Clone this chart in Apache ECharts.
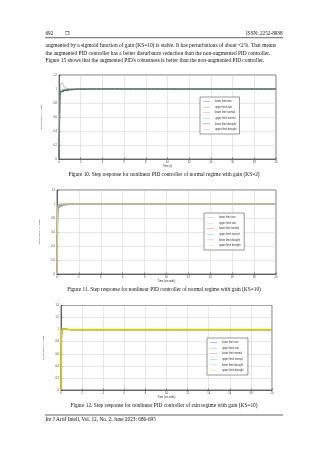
<!DOCTYPE html>
<html>
<head>
<meta charset="utf-8">
<script src="https://cdn.jsdelivr.net/npm/echarts@6/dist/echarts.min.js"></script>
<style>
  html, body { margin: 0; padding: 0; background: #fff; }
  #page { width: 320px; height: 453px; }
</style>
</head>
<body>
<div id="page"></div>
<script>
// time samples (s) shared by every curve
const times = [0, 0.05, 0.1, 0.2, 0.3, 0.5, 1, 2, 3, 5, 10, 20];
const names = ['lower limit rain', 'upper limit rain', 'lower limit normal', 'upper limit normal', 'lower limit drought', 'upper limit drought'];

// Figure 10 (KS=2)
const fig10LoRain    = [0, 0.45, 0.90, 0.95, 0.96, 0.97, 0.985, 0.995, 1.0, 1.005, 1.0, 1.0];
const fig10UpRain    = [0, 0.50, 0.92, 0.96, 0.97, 0.98, 0.99, 1.0, 1.0, 1.0, 1.0, 1.0];
const fig10LoNormal  = [0, 0.55, 0.95, 0.98, 0.99, 0.995, 1.0, 1.005, 1.005, 1.0, 1.0, 1.0];
const fig10UpNormal  = [0, 0.55, 0.94, 0.97, 0.985, 0.99, 1.0, 1.0, 1.0, 1.0, 1.0, 1.0];
const fig10LoDrought = [0, 0.60, 0.97, 0.96, 0.97, 0.98, 0.99, 1.0, 1.0, 1.0, 1.0, 1.0];
const fig10UpDrought = [0, 0.60, 1.02, 1.08, 1.09, 1.03, 1.0, 1.0, 1.0, 1.0, 1.0, 1.0];

// Figure 11 (KS=10, normal)
const fig11LoRain    = [0, 0.70, 0.94, 0.95, 0.96, 0.975, 0.99, 1.0, 1.0, 1.0, 1.0, 1.0];
const fig11UpRain    = [0, 0.72, 0.95, 0.96, 0.97, 0.98, 0.99, 1.0, 1.0, 1.0, 1.0, 1.0];
const fig11LoNormal  = [0, 0.80, 0.98, 0.99, 1.0, 1.0, 1.0, 1.0, 1.0, 1.0, 1.0, 1.0];
const fig11UpNormal  = [0, 0.78, 0.96, 0.97, 0.98, 0.99, 1.0, 1.0, 1.0, 1.0, 1.0, 1.0];
const fig11LoDrought = [0, 0.75, 0.93, 0.94, 0.96, 0.98, 0.995, 1.0, 1.0, 1.0, 1.0, 1.0];
const fig11UpDrought = [0, 0.82, 0.99, 1.0, 1.0, 1.0, 1.0, 1.0, 1.0, 1.0, 1.0, 1.0];

// Figure 12 (KS=10, rain)
const fig12LoRain    = [0, 0.85, 1.0, 1.01, 1.01, 1.005, 1.0, 1.0, 1.0, 1.0, 1.0, 1.0];
const fig12UpRain    = [0, 0.86, 1.0, 1.01, 1.01, 1.005, 1.0, 1.0, 1.0, 1.0, 1.0, 1.0];
const fig12LoNormal  = [0, 0.87, 1.0, 1.015, 1.01, 1.005, 1.0, 1.0, 1.0, 1.0, 1.0, 1.0];
const fig12UpNormal  = [0, 0.86, 0.99, 1.01, 1.01, 1.005, 1.0, 1.0, 1.0, 1.0, 1.0, 1.0];
const fig12LoDrought = [0, 0.88, 1.0, 1.015, 1.01, 1.005, 1.0, 1.0, 1.0, 1.0, 1.0, 1.0];
const fig12UpDrought = [0, 0.88, 1.0, 1.02, 1.015, 1.005, 1.0, 1.0, 1.0, 1.0, 1.0, 1.0];

const fig10Styles = [
  { color: '#2a4fd0', type: [3, 1.5], width: 0.8 },
  { color: '#2ea02e', type: 'solid', width: 0.8 },
  { color: '#e86a6a', type: [3, 1, 1, 1], width: 0.8 },
  { color: '#3cc8d4', type: [2, 1], width: 0.8 },
  { color: '#303030', type: 'solid', width: 0.7 },
  { color: '#9a9a9a', type: 'solid', width: 0.7 }
];
const fig11Styles = [
  { color: '#8c8ce6', type: [2, 1], width: 0.8 },
  { color: '#8fd08f', type: 'solid', width: 0.8 },
  { color: '#e03a3a', type: [1, 1], width: 1 },
  { color: '#3cc0b0', type: 'solid', width: 1.4 },
  { color: '#e070e6', type: 'solid', width: 1 },
  { color: '#e8d46a', type: 'solid', width: 1 }
];
const fig12Styles = [
  { color: '#2030e0', type: 'solid', width: 0.8 },
  { color: '#40b040', type: 'solid', width: 0.8 },
  { color: '#e03030', type: 'solid', width: 0.8 },
  { color: '#808080', type: [2, 1, 1, 1], width: 0.8 },
  { color: '#a0a0a0', type: 'solid', width: 0.7 },
  { color: '#d8cc18', type: 'solid', width: 1.6 }
];

const pairs = (vals) => times.map((t, i) => [t, vals[i]]);

var dom = document.getElementById('page');
var chart = echarts.init(dom, null, { renderer: 'canvas' });

const serif = 'Liberation Serif';
const grids = [
  { left: 59, top: 75, width: 217, height: 84, show: true, borderColor: '#222', borderWidth: 0.6, backgroundColor: '#fff' },
  { left: 57, top: 190, width: 219, height: 84, show: true, borderColor: '#222', borderWidth: 0.6, backgroundColor: '#fff' },
  { left: 61, top: 305.5, width: 211, height: 84.5, show: true, borderColor: '#222', borderWidth: 0.6, backgroundColor: '#fff' }
];
const xNames = ['Time (s)', 'Time (seconds)', 'Time (seconds)'];
const yMax = [1.2, 1.2, 1.4];

let makeX = (i) => ({
  type: 'value', gridIndex: i, min: 0, max: 20, interval: 2,
  name: xNames[i], nameLocation: 'middle', nameGap: 5,
  nameTextStyle: { fontSize: 2.6, color: '#333', fontFamily: 'Liberation Sans' },
  axisLine: { lineStyle: { color: '#222', width: 0.6 } },
  axisTick: { length: 1.5, inside: true, lineStyle: { color: '#222', width: 0.5 } },
  axisLabel: { fontSize: 2.6, color: '#333', margin: 2, fontFamily: 'Liberation Sans' },
  splitLine: { show: true, lineStyle: { color: '#cfcfcf', width: 0.5 } }
});
let makeY = (i) => ({
  type: 'value', gridIndex: i, min: 0, max: yMax[i], interval: 0.2,
  name: 'Normalized Output Level', nameLocation: 'middle', nameGap: 6, nameRotate: 90,
  nameTextStyle: { fontSize: 2.3, color: '#333', fontFamily: 'Liberation Sans' },
  axisLine: { lineStyle: { color: '#222', width: 0.6 } },
  axisTick: { length: 1.5, inside: true, lineStyle: { color: '#222', width: 0.5 } },
  axisLabel: { fontSize: 2.6, color: '#333', margin: 2, fontFamily: 'Liberation Sans' },
  splitLine: { show: true, lineStyle: { color: '#cfcfcf', width: 0.5 } }
});

const figData = [
  [fig10LoRain, fig10UpRain, fig10LoNormal, fig10UpNormal, fig10LoDrought, fig10UpDrought],
  [fig11LoRain, fig11UpRain, fig11LoNormal, fig11UpNormal, fig11LoDrought, fig11UpDrought],
  [fig12LoRain, fig12UpRain, fig12LoNormal, fig12UpNormal, fig12LoDrought, fig12UpDrought]
];
const figStyles = [fig10Styles, fig11Styles, fig12Styles];

let series = [];
let legends = [];
const legendPos = [[200, 97], [204, 213], [207, 338]];
figData.forEach((set, g) => {
  // trailing spaces keep legend names apart between figures
  const suffix = ' '.repeat(g);
  set.forEach((vals, k) => {
    series.push({
      type: 'line', name: names[k] + suffix, xAxisIndex: g, yAxisIndex: g,
      data: pairs(vals), symbol: 'none', smooth: 0.3,
      lineStyle: figStyles[g][k], itemStyle: { color: figStyles[g][k].color },
      z: 2 + k
    });
  });
  legends.push({
    left: legendPos[g][0], top: legendPos[g][1], orient: 'vertical',
    data: names.map(n => n + suffix),
    icon: 'path://M0,0H20V1H0Z',
    itemWidth: 7, itemHeight: 0.8, itemGap: 2.6,
    padding: [3, 3, 3, 3],
    borderColor: '#333', borderWidth: 0.5, backgroundColor: '#fff',
    textStyle: { fontSize: 2.6, color: '#333', fontFamily: 'Liberation Sans' },
    selectedMode: false
  });
});

const txt = (x, y, text, size, align) => ({
  type: 'text', x: x, y: y,
  style: { text: text, fontSize: size, fontFamily: serif, fill: '#111', align: align || 'left', verticalAlign: 'middle' }
});

const graphics = [
  txt(45.5, 33.3, '692', 5.2),
  txt(65, 33.3, '❒', 5),
  txt(282.5, 33.3, 'ISSN: 2252-8938', 5.2, 'right'),
  { type: 'line', shape: { x1: 45, y1: 37.7, x2: 283, y2: 37.7 }, style: { stroke: '#222', lineWidth: 0.7 } },
  txt(45.5, 46, 'augmented by a sigmoid function of gain (KS=10) is stable. It has perturbations of about <2%. That means', 5.4),
  txt(45.5, 53.2, 'the augmented PID controller has a better disturbance reduction than the non-augmented PID controller.', 5.4),
  txt(45.5, 60.3, "Figure 15 shows that the augmented PID's robustness is better than the non-augmented PID controller.", 5.35),
  txt(164, 174.2, 'Figure 10. Step response for nonlinear PID controller of normal regime with gain (KS=2)', 5.35, 'center'),
  txt(164, 289.5, 'Figure 11. Step response for nonlinear PID controller of normal regime with gain (KS=10)', 5.35, 'center'),
  txt(164, 406, 'Figure 12. Step response for nonlinear PID controller of rain regime with gain (KS=10)', 5.35, 'center'),
  { type: 'line', shape: { x1: 45, y1: 415, x2: 283, y2: 415 }, style: { stroke: '#222', lineWidth: 0.7 } },
  txt(45.5, 419.5, 'Int J Artif Intell, Vol. 12, No. 2, June 2023: 686-695', 5.3)
];

var option = {
  backgroundColor: '#fff',
  animation: false,
  grid: grids,
  xAxis: [makeX(0), makeX(1), makeX(2)],
  yAxis: [makeY(0), makeY(1), makeY(2)],
  legend: legends,
  series: series,
  graphic: graphics
};

chart.setOption(option);
</script>
</body>
</html>
